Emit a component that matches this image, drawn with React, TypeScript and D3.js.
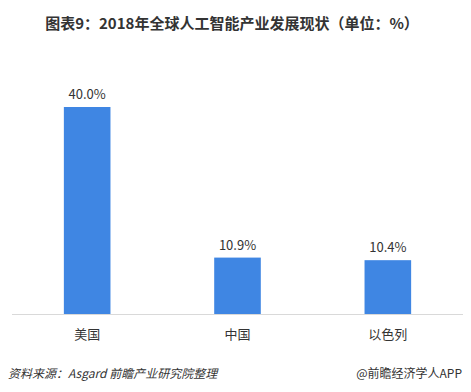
import { useMemo } from 'react'
import * as d3 from 'd3'

const categories = ['美国', '中国', '以色列']
const values = [40.0, 10.9, 10.4]

const W = 471
const H = 392
const AXIS_Y = 314
const PLOT_LEFT = 12
const PLOT_RIGHT = 463
const BAR_COLOR = '#3F86E3'
const TEXT = '#333333'
const FONT = "'Microsoft YaHei', 'Noto Sans CJK SC', sans-serif"

export default function App() {
  const x = useMemo(
    () => d3.scaleBand<string>().domain(categories).range([PLOT_LEFT, PLOT_RIGHT]).paddingInner(0.69).paddingOuter(0.345),
    []
  )
  const y = useMemo(() => d3.scaleLinear().domain([0, 40]).range([AXIS_Y, 107]), [])

  return (
    <svg width={W} height={H} style={{ position: 'absolute', left: 0, top: 0, background: '#fff' }} fontFamily={FONT}>
      <text x={232} y={29} textAnchor="middle" fontSize={15} fontWeight="bold" fill={TEXT}>
        图表9：2018年全球人工智能产业发展现状（单位：%）
      </text>

      {categories.map((c, i) => {
        const bx = x(c) ?? 0
        const top = y(values[i])
        return (
          <g key={c}>
            <rect x={bx} y={top} width={x.bandwidth()} height={AXIS_Y - top} fill={BAR_COLOR} />
            <text x={bx + x.bandwidth() / 2} y={top - 8} textAnchor="middle" fontSize={13} fill={TEXT}>
              {values[i].toFixed(1)}%
            </text>
            <text x={bx + x.bandwidth() / 2} y={339} textAnchor="middle" fontSize={13} fill={TEXT}>
              {c}
            </text>
          </g>
        )
      })}

      <line x1={PLOT_LEFT} x2={PLOT_RIGHT} y1={AXIS_Y + 0.5} y2={AXIS_Y + 0.5} stroke="#d9d9d9" strokeWidth={1} />

      <text x={8} y={378} fontSize={12} fontStyle="italic" fill={TEXT}>
        资料来源：Asgard 前瞻产业研究院整理
      </text>
      <text x={462} y={378} textAnchor="end" fontSize={12} fill={TEXT}>
        @前瞻经济学人APP
      </text>
    </svg>
  )
}
